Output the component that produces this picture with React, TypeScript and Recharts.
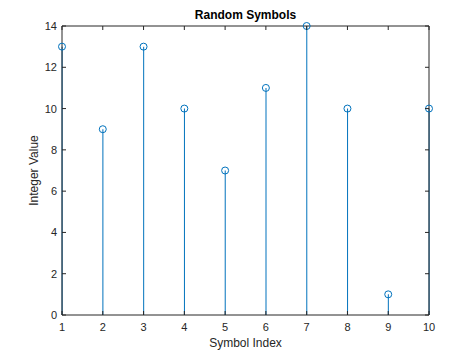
import { Bar, ComposedChart, Scatter, XAxis, YAxis } from "recharts";

const symbolIndex = [1, 2, 3, 4, 5, 6, 7, 8, 9, 10];
const integerValue = [13, 9, 13, 10, 7, 11, 14, 10, 1, 10];
const xTicks = [1, 2, 3, 4, 5, 6, 7, 8, 9, 10];
const yTicks = [0, 2, 4, 6, 8, 10, 12, 14];

const data = symbolIndex.map((x, i) => ({ x, y: integerValue[i] }));

const STEM = "#0072BD";
const AXIS = "#262626";
const FONT = "'Liberation Sans', Arial, sans-serif";
const TICK_LEN = 4;

const Marker = (props: any) => {
  const { cx, cy } = props;
  if (cx == null || cy == null) return <g />;
  return <circle cx={cx} cy={cy} r={3.5} fill="none" stroke={STEM} strokeWidth={1} />;
};

// MATLAB-style ticks point into the plot box
const BottomTick = (props: any) => {
  const { x, y, payload } = props;
  return (
    <g>
      <line x1={x} x2={x} y1={y - 8} y2={y - 8 - TICK_LEN} stroke={AXIS} />
      <text x={x} y={y} dy={8} textAnchor="middle" fontSize={11} fill={AXIS} fontFamily={FONT}>
        {payload.value}
      </text>
    </g>
  );
};

const LeftTick = (props: any) => {
  const { x, y, payload } = props;
  return (
    <g>
      <line x1={x + 5} x2={x + 5 + TICK_LEN} y1={y} y2={y} stroke={AXIS} />
      <text x={x} y={y} dy={4} textAnchor="end" fontSize={11} fill={AXIS} fontFamily={FONT}>
        {payload.value}
      </text>
    </g>
  );
};

const TopTick = (props: any) => {
  const { x, y } = props;
  return <line x1={x} x2={x} y1={y} y2={y + TICK_LEN} stroke={AXIS} />;
};

const RightTick = (props: any) => {
  const { x, y } = props;
  return <line x1={x} x2={x - TICK_LEN} y1={y} y2={y} stroke={AXIS} />;
};

const NoShape = () => <g />;

export default function App() {
  return (
    <div style={{ position: "absolute", left: 0, top: 0, width: 474, height: 355, background: "#fff", fontFamily: FONT }}>
      <div
        style={{
          position: "absolute",
          top: 8,
          left: 62,
          width: 367,
          textAlign: "center",
          fontWeight: "bold",
          fontSize: 12,
          color: "#000",
        }}
      >
        Random Symbols
      </div>
      <ComposedChart width={474} height={355} data={data} margin={{ top: 25, right: 44, bottom: 0, left: 0 }}>
        <XAxis
          dataKey="x"
          type="number"
          domain={[1, 10]}
          ticks={xTicks}
          interval={0}
          height={40}
          tickSize={0}
          tickMargin={8}
          stroke={AXIS}
          tick={BottomTick}
          label={{ value: "Symbol Index", position: "insideBottom", offset: 8, fontSize: 12, fill: AXIS, fontFamily: FONT }}
        />
        <XAxis
          xAxisId="top"
          dataKey="x"
          orientation="top"
          type="number"
          domain={[1, 10]}
          ticks={xTicks}
          interval={0}
          height={1}
          tickSize={0}
          tickMargin={0}
          stroke={AXIS}
          tick={TopTick}
        />
        <YAxis
          type="number"
          domain={[0, 14]}
          ticks={yTicks}
          interval={0}
          width={62}
          tickSize={0}
          tickMargin={5}
          stroke={AXIS}
          tick={LeftTick}
          label={{ value: "Integer Value", angle: -90, position: "insideLeft", offset: 34, fontSize: 12, fill: AXIS, fontFamily: FONT, style: { textAnchor: "middle" } }}
        />
        <YAxis
          yAxisId="right"
          orientation="right"
          type="number"
          domain={[0, 14]}
          ticks={yTicks}
          interval={0}
          width={1}
          tickSize={0}
          tickMargin={0}
          stroke={AXIS}
          tick={RightTick}
        />
        <Bar dataKey="y" barSize={1} fill={STEM} isAnimationActive={false} />
        <Scatter dataKey="y" shape={Marker} isAnimationActive={false} />
        <Scatter dataKey="y" xAxisId="top" yAxisId="right" shape={NoShape} isAnimationActive={false} />
      </ComposedChart>
    </div>
  );
}
